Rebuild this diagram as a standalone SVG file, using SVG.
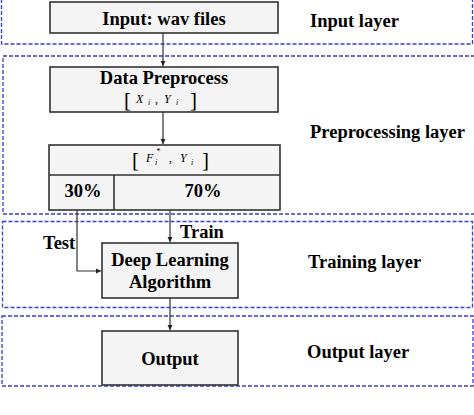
<svg xmlns="http://www.w3.org/2000/svg" width="474" height="415" viewBox="0 0 474 415">
<defs>
<style>
.layer{fill:none;stroke:#3b3bd6;stroke-width:1.3;stroke-dasharray:4 2}
.box{fill:#f4f4f4;stroke:#333;stroke-width:1.6}
.t{font-family:"Liberation Serif","Times New Roman",serif;font-weight:bold;font-size:18.5px;fill:#000}
.c{text-anchor:middle}
.f{font-family:"Liberation Serif","Times New Roman",serif;font-size:12px;fill:#000}
.br{font-size:21px;font-style:normal}
.i{font-style:italic}
.s{font-style:italic;font-size:8px}
.ln{fill:none;stroke:#333;stroke-width:1.2}
</style>
<marker id="ah" markerWidth="6" markerHeight="6" refX="5" refY="3" orient="auto" markerUnits="userSpaceOnUse">
<path d="M0,0.5 L5,3 L0,5.5 Z" fill="#222"/>
</marker>
</defs>
<rect width="474" height="415" fill="#fff"/>
<g id="layers">
<rect class="layer" x="1.5" y="-5" width="471" height="49"/>
<rect class="layer" x="3" y="56" width="475" height="158"/>
<rect class="layer" x="2.5" y="221.5" width="470" height="86"/>
<rect class="layer" x="2" y="316" width="471" height="70"/>
<text class="t" x="310" y="27">Input layer</text>
<text class="t" x="310" y="138">Preprocessing layer</text>
<text class="t" x="308" y="268">Training layer</text>
<text class="t" x="307" y="358">Output layer</text>
</g>
<g id="connectors">
<line class="ln" x1="163" y1="33" x2="163" y2="66" marker-end="url(#ah)"/>
<line class="ln" x1="163" y1="112" x2="163" y2="144" marker-end="url(#ah)"/>
<line class="ln" x1="170" y1="210" x2="170" y2="242" marker-end="url(#ah)"/>
<polyline class="ln" points="77,210 77,271 101,271" marker-end="url(#ah)"/>
<line class="ln" x1="170" y1="298" x2="170" y2="330" marker-end="url(#ah)"/>
<text class="t" x="43" y="249">Test</text>
<text class="t" x="180" y="238">Train</text>
</g>
<g id="input">
<rect class="box" x="50" y="2" width="228" height="31"/>
<text class="t c" x="164" y="25">Input: wav files</text>
</g>
<g id="preprocess">
<rect class="box" x="50" y="67" width="228" height="45"/>
<text class="t c" x="164" y="84">Data Preprocess</text>
<text class="f" y="107"><tspan class="br" x="124">[</tspan><tspan class="i" x="136" dy="-4">X</tspan><tspan class="s" x="148" dy="2">i</tspan><tspan x="155" dy="-2">,</tspan><tspan class="i" x="164">Y</tspan><tspan class="s" x="176" dy="2">i</tspan><tspan class="br" x="190" dy="2">]</tspan></text>
</g>
<g id="split">
<rect class="box" x="49" y="145" width="231" height="65"/>
<line x1="49" y1="175" x2="280" y2="175" stroke="#333" stroke-width="1.6"/>
<line x1="114" y1="175" x2="114" y2="210" stroke="#333" stroke-width="1.6"/>
<text class="f" y="167"><tspan class="br" x="132">[</tspan><tspan class="i" x="146" dy="-5">F</tspan><tspan class="s" x="155" dy="3">i</tspan><tspan class="s" x="156" dy="-11">*</tspan><tspan x="169" dy="8">,</tspan><tspan class="i" x="180">Y</tspan><tspan class="s" x="191" dy="3">i</tspan><tspan class="br" x="202" dy="2">]</tspan></text>
<text class="t c" x="83" y="197" font-size="22">30%</text>
<text class="t c" x="203" y="197" font-size="22">70%</text>
</g>
<g id="deep">
<rect class="box" x="102" y="243" width="136" height="55"/>
<text class="t c" x="170" y="266">Deep Learning</text>
<text class="t c" x="170" y="288">Algorithm</text>
</g>
<g id="output">
<rect class="box" x="102" y="331" width="136" height="54"/>
<text class="t c" x="170" y="365">Output</text>
</g>
</svg>
